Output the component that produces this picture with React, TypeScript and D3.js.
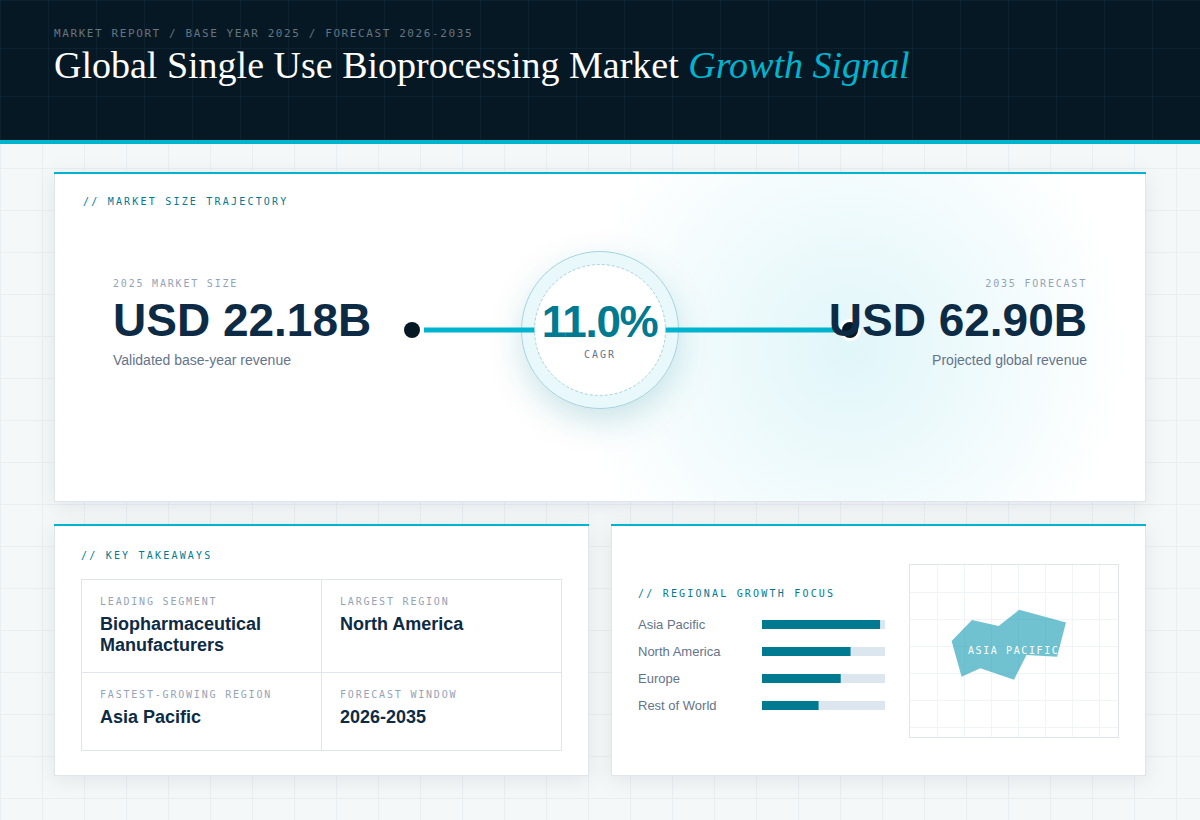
import * as React from "react";
import { line, range, scaleBand, scaleLinear, curveLinearClosed } from "d3";

const regions = ["Asia Pacific", "North America", "Europe", "Rest of World"];
const regionShares = [96, 72, 64, 46];

const takeawayLabels = ["LEADING SEGMENT", "LARGEST REGION", "FASTEST-GROWING REGION", "FORECAST WINDOW"];
const takeawayValues = [["Biopharmaceutical", "Manufacturers"], ["North America"], ["Asia Pacific"], ["2026-2035"]];

const mapShapeX = [20, 29.8, 42.6, 52.5, 75, 70.7, 56, 50, 33.8, 24.8];
const mapShapeY = [44.2, 32, 35.5, 26, 33.5, 53.3, 52.3, 66.7, 60, 65];

const width = 1200, height = 820;
const teal = "#00b4d0", deep = "#007a91", navy = "#061824", ink = "#0d2b45", slate = "#64748b", pale = "#94a3b8";
const mono = "'DejaVu Sans Mono', monospace";
const sans = "'Liberation Sans', Arial, sans-serif";
const serif = "'Liberation Serif', 'Times New Roman', serif";

const Card: React.FC<{x: number, y: number, w: number, h: number}> = ({x, y, w, h}) => (
    <g>
        <rect x={x} y={y} width={w} height={h} fill="#fff" filter="url(#cardShadow)"/>
        <rect x={x + 0.5} y={y + 0.5} width={w - 1} height={h - 1} fill="none" stroke="#dfe5ea"/>
        <rect x={x} y={y} width={w} height={2} fill={teal}/>
    </g>
);

const Mono: React.FC<any> = ({size = 10, spacing = 0.18, fill = pale, children, ...rest}) => (
    <text fontFamily={mono} fontSize={size} letterSpacing={size * spacing} fill={fill} {...rest}>{children}</text>
);

const App: React.FC = () => {
    // regional bars
    const barX = scaleLinear().domain([0, 100]).range([762, 885]);
    const barY = scaleBand().domain(regions).range([611, 719]).paddingInner(0.667).paddingOuter(0.333);

    // map box
    const mapX = scaleLinear().domain([0, 100]).range([910, 1118]);
    const mapY = scaleLinear().domain([0, 100]).range([565, 737]);
    const shape = line<number>()
        .x(i => mapX(mapShapeX[i]))
        .y(i => mapY(mapShapeY[i]))
        .curve(curveLinearClosed);

    const cellX = [100, 340];
    const cellY = [579, 672];

    return (
        <svg width={width} height={height} viewBox={`0 0 ${width} ${height}`}
             style={{position: "absolute", left: 0, top: 0, display: "block"}}>
            <defs>
                <filter id="cardShadow" x="-10%" y="-20%" width="120%" height="150%">
                    <feDropShadow dx="0" dy="4" stdDeviation="10" floodColor="#0d2b45" floodOpacity="0.08"/>
                </filter>
                <filter id="ringShadow" x="-50%" y="-50%" width="200%" height="200%">
                    <feDropShadow dx="0" dy="12" stdDeviation="16" floodColor="#007a91" floodOpacity="0.2"/>
                </filter>
                <radialGradient id="glow" gradientUnits="userSpaceOnUse" cx="850" cy="350" r="280">
                    <stop offset="0" stopColor={teal} stopOpacity="0.12"/>
                    <stop offset="0.5" stopColor={teal} stopOpacity="0.06"/>
                    <stop offset="1" stopColor={teal} stopOpacity="0"/>
                </radialGradient>
                <clipPath id="card1Clip"><rect x="55" y="174" width="1090" height="327"/></clipPath>
            </defs>

            <rect width={width} height={height} fill="#f4f8f9"/>
            {range(0, width, 42).map(x => <line key={x} x1={x + 0.5} x2={x + 0.5} y1={144} y2={height} stroke="#e9eef1"/>)}
            {range(168, height, 42).map(y => <line key={y} x1={0} x2={width} y1={y + 0.5} y2={y + 0.5} stroke="#e9eef1"/>)}

            <rect width={width} height={140} fill={navy}/>
            {range(0, width, 48).map(x => <line key={x} x1={x + 0.5} x2={x + 0.5} y1={0} y2={140} stroke="#0c2230"/>)}
            {range(0, 140, 48).map(y => <line key={y} x1={0} x2={width} y1={y + 0.5} y2={y + 0.5} stroke="#0c2230"/>)}
            <rect y={140} width={width} height={4} fill={teal}/>

            <Mono x={54} y={37} size={11} spacing={0.145} fill="#66747f">MARKET REPORT / BASE YEAR 2025 / FORECAST 2026-2035</Mono>
            <text x={54} y={78} fontFamily={serif} fontSize={38} fill="#fff">
                Global Single Use Bioprocessing Market <tspan fontStyle="italic" fill={teal}>Growth Signal</tspan>
            </text>

            <Card x={54} y={172} w={1092} h={330}/>
            <circle cx={850} cy={350} r={280} fill="url(#glow)" clipPath="url(#card1Clip)"/>
            <Mono x={83} y={205} spacing={0.22} fill={deep}>// MARKET SIZE TRAJECTORY</Mono>

            <circle cx={600} cy={330} r={78.5} fill="#e8f8fb" stroke="#a5d3df" filter="url(#ringShadow)"/>
            <line x1={424} x2={850} y1={330} y2={330} stroke={teal} strokeWidth={5}/>
            <circle cx={412} cy={330} r={8} fill={navy}/>
            <circle cx={850} cy={330} r={9.5} fill={navy} stroke="#fff" strokeWidth={3}/>
            <circle cx={600} cy={330} r={65.5} fill="#fff" stroke="#a5d3df" strokeDasharray="3 2"/>
            <text x={599.5} y={337} textAnchor="middle" fontFamily={sans} fontWeight="bold" fontSize={44} letterSpacing={-1.32} fill={deep}>11.0%</text>
            <Mono x={600} y={358} textAnchor="middle" spacing={0.2} fill={slate}>CAGR</Mono>

            <Mono x={113} y={287}>2025 MARKET SIZE</Mono>
            <text x={113} y={336} fontFamily={sans} fontWeight="bold" fontSize={46} fill={ink}>USD 22.18B</text>
            <text x={113} y={365} fontFamily={sans} fontSize={14} fill={slate}>Validated base-year revenue</text>

            <Mono x={1087} y={287} textAnchor="end">2035 FORECAST</Mono>
            <text x={1087} y={336} textAnchor="end" fontFamily={sans} fontWeight="bold" fontSize={46} fill={ink}>USD 62.90B</text>
            <text x={1087} y={365} textAnchor="end" fontFamily={sans} fontSize={14} fill={slate}>Projected global revenue</text>

            <Card x={54} y={524} w={535} h={252}/>
            <Mono x={81} y={559} spacing={0.22} fill={deep}>// KEY TAKEAWAYS</Mono>
            <rect x={81.5} y={579.5} width={480} height={171} fill="none" stroke="#dfe5ea"/>
            <line x1={321.5} x2={321.5} y1={580} y2={750} stroke="#dfe5ea"/>
            <line x1={82} x2={561} y1={672.5} y2={672.5} stroke="#dfe5ea"/>
            {takeawayLabels.map((label, i) => {
                const cx = cellX[i % 2], cy = cellY[Math.floor(i / 2)];
                return (
                    <g key={label}>
                        <Mono x={cx} y={cy + 26}>{label}</Mono>
                        {takeawayValues[i].map((row, j) => (
                            <text key={row} x={cx} y={cy + 51 + j * 21} fontFamily={sans} fontWeight="bold" fontSize={18} fill={ink}>{row}</text>
                        ))}
                    </g>
                );
            })}

            <Card x={611} y={524} w={535} h={252}/>
            <Mono x={638} y={597} spacing={0.22} fill={deep}>// REGIONAL GROWTH FOCUS</Mono>
            {regions.map((r, i) => (
                <g key={r}>
                    <text x={638} y={(barY(r) as number) + 9} fontFamily={sans} fontSize={13} fill={slate}>{r}</text>
                    <rect x={barX(0)} y={barY(r)} width={barX(100) - barX(0)} height={barY.bandwidth()} fill="#dce6ee"/>
                    <rect x={barX(0)} y={barY(r)} width={barX(regionShares[i]) - barX(0)} height={barY.bandwidth()} fill={deep}/>
                </g>
            ))}

            <rect x={909.5} y={564.5} width={209} height={173} fill="#fff" stroke="#dfe5ea"/>
            {range(937, 1118, 27).map(x => <line key={x} x1={x + 0.5} x2={x + 0.5} y1={565} y2={737} stroke="#f1f4f6"/>)}
            {range(592, 737, 27).map(y => <line key={y} x1={910} x2={1118} y1={y + 0.5} y2={y + 0.5} stroke="#f1f4f6"/>)}
            <path d={shape(range(mapShapeX.length)) as string} fill="#0092ad" fillOpacity={0.56}/>
            <Mono x={968} y={654} spacing={0.16} fill="#fff">ASIA PACIFIC</Mono>
        </svg>
    );
};

export default App;
